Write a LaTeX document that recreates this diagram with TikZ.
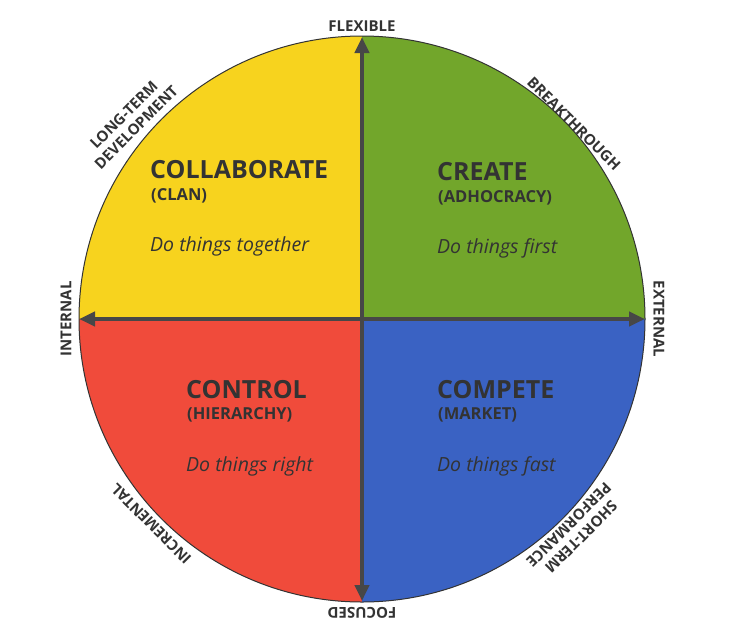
\documentclass[tikz,border=0pt]{standalone}
\usepackage{fontspec}
\setmainfont{Open Sans}
\usetikzlibrary{arrows.meta}
\definecolor{cy}{HTML}{F7D31E}
\definecolor{cg}{HTML}{72A62B}
\definecolor{cr}{HTML}{F04B3B}
\definecolor{cb}{HTML}{3A62C3}
\definecolor{ax}{HTML}{474747}
\definecolor{tx}{HTML}{333333}
\begin{document}
\begin{tikzpicture}[x=1pt,y=-1pt,
  big/.style={font=\fontsize{25}{27}\selectfont\bfseries,text=tx,anchor=west,inner sep=0},
  sub/.style={font=\fontsize{16.5}{18}\selectfont\bfseries,text=tx,anchor=west,inner sep=0},
  mot/.style={font=\fontsize{19.5}{21}\selectfont\itshape,text=tx,anchor=west,inner sep=0},
  edge/.style={font=\fontsize{15}{17.5}\selectfont\bfseries,text=tx,align=center,inner sep=0},
  axis/.style={ax,line width=4pt,{Triangle[length=16pt,width=14pt]}-{Triangle[length=16pt,width=14pt]}}]
\useasboundingbox (0,0) rectangle (750,638);
\def\R{283}
\begin{scope}
\clip (362,319) circle[radius=\R];
\fill[cy] (362,319) rectangle (0,0);
\fill[cg] (362,319) rectangle (750,0);
\fill[cr] (362,319) rectangle (0,638);
\fill[cb] (362,319) rectangle (750,638);
\end{scope}
\draw[tx,line width=1pt] (362,319) circle[radius=\R];
\coordinate (t) at (362,37); \coordinate (b) at (362,601);
\coordinate (l) at (79,319); \coordinate (r) at (645,319);
\draw[axis] (b) -- (t);
\draw[axis] (l) -- (r);
\node[big] (n1) at (150,170) {COLLABORATE};
\node[sub] (s1) at (151,196) {(CLAN)};
\node[mot] (m1) at (150,246) {Do things together};
\node[big] (n2) at (437,172) {CREATE};
\node[sub] (s2) at (438,198) {(ADHOCRACY)};
\node[mot] (m2) at (437,248) {Do things first};
\node[big] (n3) at (186,390) {CONTROL};
\node[sub] (s3) at (187,415) {(HIERARCHY)};
\node[mot] (m3) at (186,466) {Do things right};
\node[big] (n4) at (437,390) {COMPETE};
\node[sub] (s4) at (438,415) {(MARKET)};
\node[mot] (m4) at (437,466) {Do things fast};
\node[edge] (e1) at (362,26) {FLEXIBLE};
\node[edge,rotate=180] (e2) at (362,613) {FOCUSED};
\node[edge,rotate=90] (e3) at (66,319) {INTERNAL};
\node[edge,rotate=-90] (e4) at (659,319) {EXTERNAL};
\node[edge,rotate=45] (e5) at (130,121) {LONG-TERM\\DEVELOPMENT};
\node[edge,rotate=-45] (e6) at (574,124) {BREAKTHROUGH};
\node[edge,rotate=135] (e7) at (151,524) {INCREMENTAL};
\node[edge,rotate=-135] (e8) at (575,531) {SHORT-TERM\\PERFORMANCE};
\end{tikzpicture}
\end{document}
